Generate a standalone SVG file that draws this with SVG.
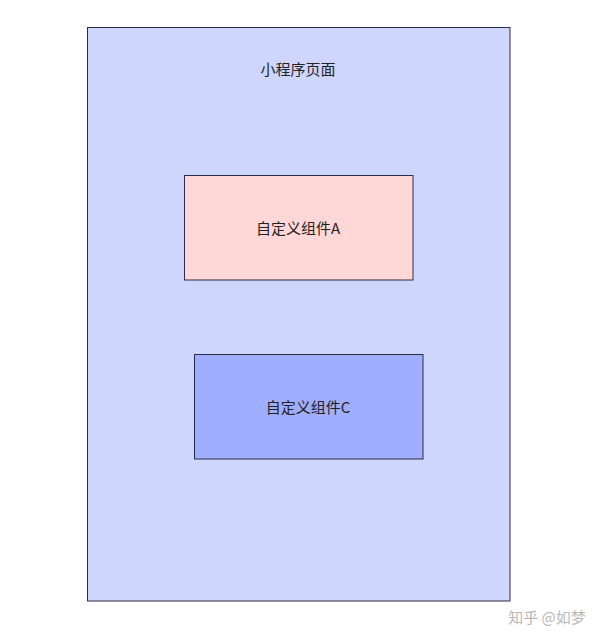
<svg xmlns="http://www.w3.org/2000/svg" width="600" height="641" viewBox="0 0 600 641">
<style>
.box{stroke:#2a2d45;stroke-width:1}
.lbl{font-family:"Noto Sans CJK SC","Noto Sans",sans-serif;font-size:15px;fill:#222;text-anchor:middle}
</style>
<rect width="600" height="641" fill="#ffffff"/>
<g id="page">
<rect class="box" x="87.500" y="27.500" width="422.500" height="573.500" fill="#cfd6fe" stroke="#555a70"/>
<text class="lbl" x="298" y="75">小程序页面</text>
</g>
<g id="compA">
<rect class="box" x="184.500" y="175.500" width="228.500" height="104.500" fill="#ffd7d7"/>
<text class="lbl" x="298" y="234">自定义组件A</text>
</g>
<g id="compC">
<rect class="box" x="194.500" y="354.500" width="228.500" height="104.500" fill="#a0aeff"/>
<text class="lbl" x="308" y="413">自定义组件C</text>
</g>
<g id="connectors"></g>
<text x="547" y="623" font-family="Noto Sans CJK SC,sans-serif" font-size="15" fill="#b8b8b8" text-anchor="middle">知乎 @如梦</text>
</svg>
